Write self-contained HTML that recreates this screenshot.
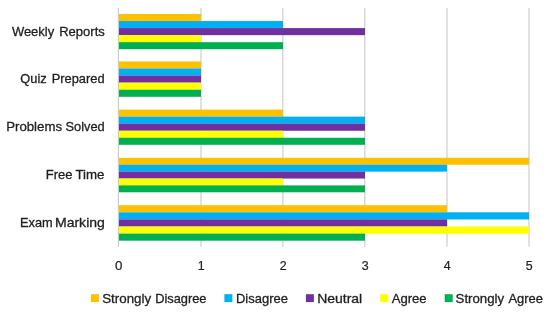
<!DOCTYPE html>
<html><head><meta charset="utf-8"><title>Chart</title>
<style>html,body{margin:0;padding:0;background:#fff}svg{display:block}text{font-family:"Liberation Sans",sans-serif;font-size:13px;fill:#1f1f1f;stroke:#1f1f1f;stroke-width:.3px}.n{font-size:12.5px;stroke-width:.2px}</style></head><body>
<svg width="550" height="313" viewBox="0 0 550 313">
<rect width="550" height="313" fill="#fff"/>
<rect x="117.85" y="8.0" width="1.1" height="238.80" fill="#C9C9C9"/>
<rect x="200.45" y="8.0" width="1.1" height="238.80" fill="#C9C9C9"/>
<rect x="282.30" y="8.0" width="1.1" height="238.80" fill="#C9C9C9"/>
<rect x="364.25" y="8.0" width="1.1" height="238.80" fill="#C9C9C9"/>
<rect x="446.45" y="8.0" width="1.1" height="238.80" fill="#C9C9C9"/>
<rect x="528.45" y="8.0" width="1.1" height="238.80" fill="#C9C9C9"/>
<rect x="119.00" y="14.00" width="82.00" height="7.09" fill="#FFC000"/>
<rect x="119.00" y="21.04" width="164.00" height="7.09" fill="#00B0F0"/>
<rect x="119.00" y="28.08" width="246.00" height="7.09" fill="#7030A0"/>
<rect x="119.00" y="35.12" width="82.00" height="7.09" fill="#FFFF00"/>
<rect x="119.00" y="42.16" width="164.00" height="7.04" fill="#00B050"/>
<rect x="119.00" y="61.40" width="82.00" height="7.13" fill="#FFC000"/>
<rect x="119.00" y="68.48" width="82.00" height="7.13" fill="#00B0F0"/>
<rect x="119.00" y="75.56" width="82.00" height="7.13" fill="#7030A0"/>
<rect x="119.00" y="82.64" width="82.00" height="7.13" fill="#FFFF00"/>
<rect x="119.00" y="89.72" width="82.00" height="7.08" fill="#00B050"/>
<rect x="119.00" y="109.60" width="164.00" height="7.09" fill="#FFC000"/>
<rect x="119.00" y="116.64" width="246.00" height="7.09" fill="#00B0F0"/>
<rect x="119.00" y="123.68" width="246.00" height="7.09" fill="#7030A0"/>
<rect x="119.00" y="130.72" width="164.00" height="7.09" fill="#FFFF00"/>
<rect x="119.00" y="137.76" width="246.00" height="7.04" fill="#00B050"/>
<rect x="119.00" y="157.80" width="410.00" height="6.95" fill="#FFC000"/>
<rect x="119.00" y="164.70" width="328.00" height="6.95" fill="#00B0F0"/>
<rect x="119.00" y="171.60" width="246.00" height="6.95" fill="#7030A0"/>
<rect x="119.00" y="178.50" width="164.00" height="6.95" fill="#FFFF00"/>
<rect x="119.00" y="185.40" width="246.00" height="6.90" fill="#00B050"/>
<rect x="119.00" y="205.20" width="328.00" height="7.15" fill="#FFC000"/>
<rect x="119.00" y="212.30" width="410.00" height="7.15" fill="#00B0F0"/>
<rect x="119.00" y="219.40" width="328.00" height="7.15" fill="#7030A0"/>
<rect x="119.00" y="226.50" width="410.00" height="7.15" fill="#FFFF00"/>
<rect x="119.00" y="233.60" width="246.00" height="7.10" fill="#00B050"/>
<text x="11.93" y="36.0" textLength="42.21" lengthAdjust="spacingAndGlyphs">Weekly</text>
<text x="59.20" y="36.0" textLength="45.58" lengthAdjust="spacingAndGlyphs">Reports</text>
<text x="20.37" y="83.0" textLength="26.34" lengthAdjust="spacingAndGlyphs">Quiz</text>
<text x="51.64" y="83.0" textLength="52.96" lengthAdjust="spacingAndGlyphs">Prepared</text>
<text x="6.18" y="131.0" textLength="55.87" lengthAdjust="spacingAndGlyphs">Problems</text>
<text x="65.54" y="131.0" textLength="39.11" lengthAdjust="spacingAndGlyphs">Solved</text>
<text x="45.86" y="179.0" textLength="26.69" lengthAdjust="spacingAndGlyphs">Free</text>
<text x="75.45" y="179.0" textLength="28.99" lengthAdjust="spacingAndGlyphs">Time</text>
<text x="20.07" y="227.0" textLength="32.70" lengthAdjust="spacingAndGlyphs">Exam</text>
<text x="54.99" y="227.0" textLength="49.87" lengthAdjust="spacingAndGlyphs">Marking</text>
<text x="102.18" y="303.0" textLength="48.96" lengthAdjust="spacingAndGlyphs">Strongly</text>
<text x="155.17" y="303.0" textLength="51.25" lengthAdjust="spacingAndGlyphs">Disagree</text>
<text x="235.94" y="303.0" textLength="52.00" lengthAdjust="spacingAndGlyphs">Disagree</text>
<text x="317.19" y="303.0" textLength="45.03" lengthAdjust="spacingAndGlyphs">Neutral</text>
<text x="391.67" y="303.0" textLength="35.00" lengthAdjust="spacingAndGlyphs">Agree</text>
<text x="455.57" y="303.0" textLength="48.64" lengthAdjust="spacingAndGlyphs">Strongly</text>
<text x="508.41" y="303.0" textLength="34.48" lengthAdjust="spacingAndGlyphs">Agree</text>
<text x="118.7" y="270" class="n" text-anchor="middle" textLength="7.4" lengthAdjust="spacingAndGlyphs">0</text>
<text x="201.1" y="270" class="n" text-anchor="middle" textLength="6.9" lengthAdjust="spacingAndGlyphs">1</text>
<text x="283.1" y="270" class="n" text-anchor="middle" textLength="6.9" lengthAdjust="spacingAndGlyphs">2</text>
<text x="365.1" y="270" class="n" text-anchor="middle" textLength="6.9" lengthAdjust="spacingAndGlyphs">3</text>
<text x="447.1" y="270" class="n" text-anchor="middle" textLength="6.9" lengthAdjust="spacingAndGlyphs">4</text>
<text x="529.1" y="270" class="n" text-anchor="middle" textLength="6.9" lengthAdjust="spacingAndGlyphs">5</text>
<rect x="91.0" y="294.2" width="8" height="7.9" fill="#FFC000"/>
<rect x="224.4" y="294.2" width="8" height="7.9" fill="#00B0F0"/>
<rect x="305.9" y="294.2" width="8" height="7.9" fill="#7030A0"/>
<rect x="380.2" y="294.2" width="8" height="7.9" fill="#FFFF00"/>
<rect x="444.7" y="294.2" width="8" height="7.9" fill="#00B050"/>
</svg></body></html>
